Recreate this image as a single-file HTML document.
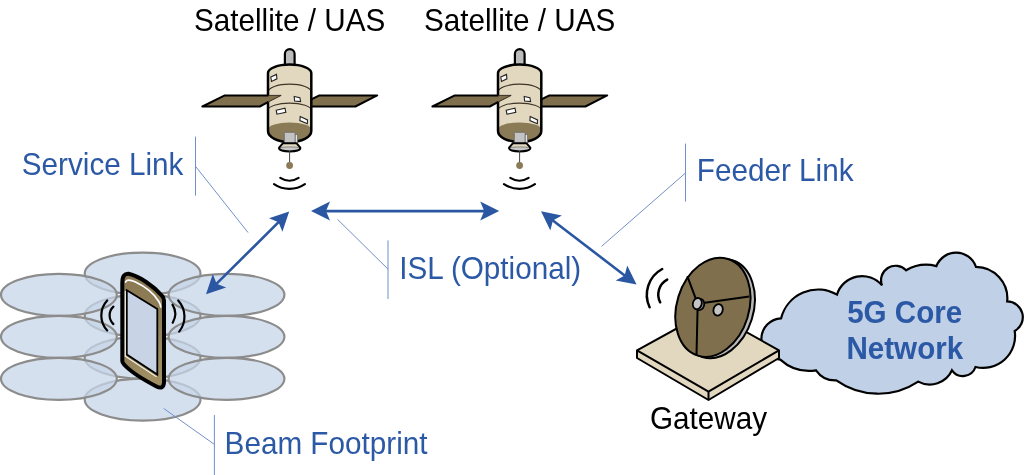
<!DOCTYPE html>
<html><head><meta charset="utf-8">
<style>
html,body{margin:0;padding:0;background:#fff;}
svg{display:block;will-change:transform;}
text{font-family:"Liberation Sans",sans-serif;}
</style></head>
<body>
<svg width="1024" height="475" viewBox="0 0 1024 475">
<defs>
  <marker id="ah" viewBox="0 0 20 20" refX="9" refY="10" markerWidth="20" markerHeight="20" markerUnits="userSpaceOnUse" orient="auto-start-reverse" overflow="visible">
    <path d="M19,10 L0,0.5 L4,10 L0,19.5 Z" fill="#2b57a2"/>
  </marker>
  <g id="sat">
    <!-- right panel (behind) -->
    <path d="M297,106.5 L319.4,95.4 L377.2,95.4 L355.4,106.5 Z" fill="#806f4c" stroke="#000" stroke-width="2" stroke-linejoin="round"/>
    <!-- antenna -->
    <path d="M284.9,70 L284.9,54 A4.85,4.85 0 0 1 294.6,54 L294.6,70 Z" fill="#bcbcbc" stroke="#000" stroke-width="2.2"/>
    <!-- body -->
    <path d="M268,73 A21.65,8.4 0 0 1 311.3,73 L311.3,131 A21.65,11 0 0 1 268,131 Z" fill="#e2d7bf"/>
    <path d="M268,129.2 A21.65,6.8 0 0 1 311.3,129.2 L311.3,131 A21.65,11 0 0 1 268,131 Z" fill="#8b7a56"/>
    <path d="M268,92.3 A21.65,8.2 0 0 1 311.3,92.3" fill="none" stroke="#3e3526" stroke-width="1.05"/>
    <path d="M268,110.1 A21.65,7 0 0 1 311.3,110.1" fill="none" stroke="#3e3526" stroke-width="1.05"/>
    <path d="M268,73 A21.65,8.4 0 0 1 311.3,73 L311.3,131 A21.65,11 0 0 1 268,131 Z" fill="none" stroke="#000" stroke-width="2.5"/>
    <!-- left panel (front) -->
    <path d="M202.4,106.5 L224.8,95.4 L281.2,95.4 L259.8,106.5 Z" fill="#806f4c"/>
    <path d="M268.4,95.4 L224.8,95.4 L202.4,106.5 L259.8,106.5 L268.4,101.9" fill="none" stroke="#000" stroke-width="2" stroke-linejoin="round"/>
    <path d="M268.4,95.4 L281.2,95.4 L268.4,101.9" fill="none" stroke="#2a2418" stroke-width="0.9" stroke-linejoin="round"/>
    <!-- windows -->
    <path d="M270.8,77 L276.5,74.4 L276.9,78.8 L271.5,81.4 Z" fill="#fff" stroke="#222" stroke-width="1.1"/>
    <path d="M294.2,96.5 L299.9,97.6 L300.6,101.6 L294.6,101 Z" fill="#fff" stroke="#222" stroke-width="1.1"/>
    <path d="M276.2,110.2 L285,108.2 L285.8,112.4 L276.9,114.2 Z" fill="#fff" stroke="#222" stroke-width="1.1"/>
    <path d="M300.2,116.5 L307.5,119.9 L307.3,123.7 L299.9,120.6 Z" fill="#fff" stroke="#222" stroke-width="1.1"/>
    <!-- nozzle -->
    <rect x="295" y="134.4" width="2.6" height="9" fill="#e4e4e4" stroke="#555" stroke-width="0.6"/>
    <rect x="284.3" y="132.3" width="10.8" height="11" rx="1" fill="#c3c3c3" stroke="#666" stroke-width="0.8"/>
    <!-- bell -->
    <path d="M283,143.2 L296.4,143.2 L300.3,147.6 C300.8,150.4 296,151.4 289.7,151.4 C283.4,151.4 278.6,150.4 279.1,147.6 Z" fill="#e2d7bf"/>
    <path d="M279.2,147.9 C283,146.6 296.5,146.6 300.2,147.9 C300.6,150.4 296,151.4 289.7,151.4 C283.4,151.4 278.8,150.4 279.2,147.9 Z" fill="#c8c8c8" stroke="#555" stroke-width="0.6"/>
    <path d="M283,143.2 L296.4,143.2 L300.3,147.6 C300.8,150.4 296,151.4 289.7,151.4 C283.4,151.4 278.6,150.4 279.1,147.6 Z" fill="none" stroke="#000" stroke-width="2" stroke-linejoin="round"/>
    <line x1="289.6" y1="151" x2="289.6" y2="163" stroke="#444" stroke-width="1"/>
    <circle cx="289.6" cy="165.5" r="3.4" fill="#8b7a56"/>
    <path d="M280.3,177.9 A16.9,16.9 0 0 0 298.6,177.9" fill="none" stroke="#000" stroke-width="2.2" stroke-linecap="round"/>
    <path d="M274.0,184.1 A27.7,27.7 0 0 0 304.9,184.1" fill="none" stroke="#000" stroke-width="2.2" stroke-linecap="round"/>
  </g>
</defs>

<!-- texts top -->
<text transform="translate(193.9,31.2) scale(1,1.03)" font-size="29.7" fill="#000">Satellite / UAS</text>
<text transform="translate(423.9,31.2) scale(1,1.03)" font-size="29.7" fill="#000">Satellite / UAS</text>

<use href="#sat"/>
<use href="#sat" transform="translate(230,0)"/>

<!-- beam footprint ellipses -->
<g stroke="#8c8c8c" stroke-width="2.15" fill="#c7d6e8" fill-opacity="0.75">
  <ellipse cx="142.6" cy="273.6" rx="57.9" ry="21"/>
  <ellipse cx="142.6" cy="315.6" rx="57.9" ry="21"/>
  <ellipse cx="142.6" cy="357.6" rx="57.9" ry="21"/>
  <ellipse cx="142.6" cy="399.6" rx="57.9" ry="21"/>
  <ellipse cx="58.9" cy="294.8" rx="57.9" ry="21"/>
  <ellipse cx="58.9" cy="336.8" rx="57.9" ry="21"/>
  <ellipse cx="58.9" cy="378.8" rx="57.9" ry="21"/>
  <ellipse cx="226.5" cy="294.8" rx="57.9" ry="21"/>
  <ellipse cx="226.5" cy="336.8" rx="57.9" ry="21"/>
  <ellipse cx="226.5" cy="378.8" rx="57.9" ry="21"/>
</g>

<!-- phone -->
<defs>
  <linearGradient id="pg" x1="0" y1="0" x2="0.3" y2="1">
    <stop offset="0" stop-color="#8a7853"/>
    <stop offset="0.6" stop-color="#8e7d57"/>
    <stop offset="1" stop-color="#a08e63"/>
  </linearGradient>
</defs>
<g>
  <path d="M122.3,283 C122.3,276 124.5,273.6 128.5,273.8 C139,276 153,285.5 162,295.8 C163.4,297.3 164,298 164,300.5 L164,382 C164,387.5 161,388.8 156.5,386.5 C145,380.5 131,372 124.5,365 C123.2,363.6 122.3,362.8 122.3,361 Z" fill="url(#pg)" stroke="#000" stroke-width="4" stroke-linejoin="round"/>
  <path d="M126.8,290.3 L157.3,309 L157.3,374.5 L126.8,354.5 Z" fill="#c9d3e6" stroke="#000" stroke-width="1.8" stroke-linejoin="miter"/>
  <path d="M125.6,282 C126.6,279.6 130,279.6 135,281.8 C146,287 154,293.5 158.8,301.5 C160,303.5 160.6,305 160.7,307" fill="none" stroke="#fff" stroke-width="1.7" stroke-linecap="round"/>
  <path d="M125.3,291 L125.3,356.3 L156.5,376.9" fill="none" stroke="#fbf8f0" stroke-width="1.1"/>
  <path d="M107.2,300.5 A21.9,21.9 0 0 0 107.2,330.4" fill="none" stroke="#000" stroke-width="2.2" stroke-linecap="round"/>
  <path d="M113.4,306.6 A12.0,12.0 0 0 0 113.4,324.1" fill="none" stroke="#000" stroke-width="2.2" stroke-linecap="round"/>
  <path d="M172.5,304.7 A17.4,17.4 0 0 1 172.7,322.7" fill="none" stroke="#000" stroke-width="2.2" stroke-linecap="round"/>
  <path d="M178.2,300.5 A23.9,23.9 0 0 1 179.2,331.6" fill="none" stroke="#000" stroke-width="2.2" stroke-linecap="round"/>
</g>

<!-- cloud -->
<path d="M781.1,318.3 A38.1,38.1 0 0 1 837.0,294.6 A26.1,26.1 0 0 1 882.0,285.4 A14.5,14.5 0 0 1 906.1,270.3 A39.4,39.4 0 0 1 936.4,266.1 A21.1,21.1 0 0 1 976.0,266.9 A31.5,31.5 0 0 1 1007.2,301.4 A15.8,15.8 0 0 1 1014.7,331.0 A32.0,32.0 0 0 1 975.5,367.0 A13.3,13.3 0 0 1 952.0,370.3 A24.4,24.4 0 0 1 918.2,381.6 A72.3,72.3 0 0 1 836.3,380.4 A23.5,23.5 0 0 1 816.0,370.3 A43.3,43.3 0 0 1 780.3,359.6 A20.7,20.7 0 0 1 781.1,318.3 Z" fill="#c0d0e6" stroke="#000" stroke-width="2.2" stroke-linejoin="miter"/>
<text transform="translate(904.7,322.9) scale(1,1.03)" font-size="29.6" font-weight="bold" fill="#2c59a5" text-anchor="middle">5G Core</text>
<text transform="translate(904.8,358.8) scale(1,1.03)" font-size="29.6" font-weight="bold" fill="#2c59a5" text-anchor="middle">Network</text>

<!-- gateway -->
<g stroke="#000" stroke-width="2" stroke-linejoin="round">
  <path d="M637,350.3 L708.5,311 L779,350.3 L779,358 L708.5,400 L637,358 Z" fill="#e2d7bf"/>
  <path d="M637,350.3 L708.5,391.6 L779,350.3 M708.5,391.6 L708.5,400" fill="none"/>
  <ellipse cx="717.3" cy="308.6" rx="36.1" ry="50.6" transform="rotate(17.25 717.3 308.6)" fill="#b8b8b8"/>
  <ellipse cx="712.9" cy="307.3" rx="36.1" ry="50.6" transform="rotate(17.25 712.9 307.3)" fill="#806f4c"/>
  <path d="M697.7,303.8 L687.3,276.1 M697.7,303.8 L749.3,296.5 M697.7,303.8 L696.5,355.3" fill="none"/>
  <ellipse cx="699.6" cy="304.6" rx="4.5" ry="5.7" transform="rotate(17 699.6 304.6)" fill="#a8a8a8" stroke-width="1.8"/>
  <ellipse cx="697.3" cy="303.6" rx="4.4" ry="5.7" transform="rotate(17 697.3 303.6)" fill="#c4c4c4" stroke-width="1.8"/>
  <ellipse cx="718.1" cy="309.9" rx="4.6" ry="5.8" transform="rotate(17 718.1 309.9)" fill="#c4c4c4" stroke-width="1.8"/>
</g>
<path d="M662.2,269.0 A29.4,29.4 0 0 0 649.6,307.3" fill="none" stroke="#000" stroke-width="2.5" stroke-linecap="round"/>
<path d="M667.2,279.6 A16.9,16.9 0 0 0 660.2,302.3" fill="none" stroke="#000" stroke-width="2.5" stroke-linecap="round"/>
<text transform="translate(649.9,429.3) scale(1,1.03)" font-size="29.7" fill="#000">Gateway</text>

<!-- callout lines -->
<g stroke="#7190c8" stroke-width="1.0" fill="none">
  <path d="M195.5,136.6 L195.5,195.6 M195.5,166.3 L248,232.5"/>
  <path d="M388,240.4 L388,299 M388,269.1 L337.5,219.3"/>
  <path d="M685.5,143.6 L685.5,201.6 M685.5,173 L601.6,246.3"/>
  <path d="M214.4,415 L214.4,475 M214.4,444.4 L163.6,408.4"/>
</g>
<text transform="translate(21.8,174.8) scale(1,1.03)" font-size="29.7" fill="#2c59a5">Service Link</text>
<text transform="translate(399.2,278.5) scale(1,1.03)" font-size="29.7" fill="#2c59a5">ISL (Optional)</text>
<text transform="translate(696.8,180.6) scale(1,1.03)" font-size="29.7" fill="#2c59a5">Feeder Link</text>
<text transform="translate(224.6,453.5) scale(1,1.03)" font-size="29.7" fill="#2c59a5">Beam Footprint</text>

<!-- arrows -->
<g stroke="#2b57a2" stroke-width="2.6" fill="none" marker-start="url(#ah)" marker-end="url(#ah)">
  <path d="M282.10,218.65 L213.10,287.15"/>
  <path d="M321.00,211.10 L489.20,211.10"/>
  <path d="M548.96,217.45 L628.6,278.5"/>
</g>
</svg>
</body></html>
